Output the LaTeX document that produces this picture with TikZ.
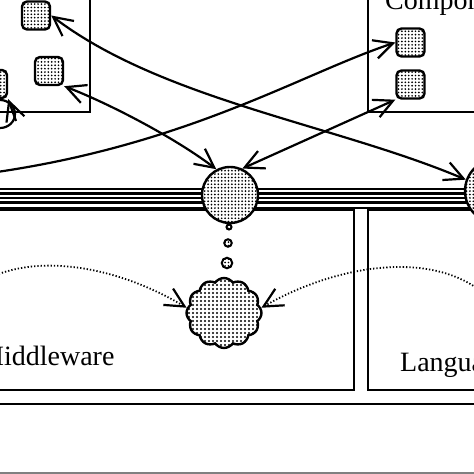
\documentclass[tikz,border=0pt]{standalone}
\usepackage{fontspec}
\setmainfont{Liberation Serif}
\usetikzlibrary{arrows.meta,patterns,shapes.symbols,shapes.geometric}
\pgfdeclarepatternformonly{bigdots}{\pgfqpoint{-1pt}{-1pt}}{\pgfqpoint{2.4pt}{2.4pt}}{\pgfqpoint{3.4pt}{3.4pt}}{\pgfpathcircle{\pgfqpoint{0.7pt}{0.7pt}}{0.95pt}\pgfusepath{fill}}
\pgfdeclarepatternformonly{cloudots}{\pgfqpoint{-1pt}{-1pt}}{\pgfqpoint{3pt}{3pt}}{\pgfqpoint{4pt}{4pt}}{\pgfpathcircle{\pgfqpoint{1pt}{1pt}}{1.15pt}\pgfusepath{fill}}
\begin{document}
\begin{tikzpicture}[x=1pt,y=-1pt,
  box/.style={line width=2.3pt},
  busline/.style={line width=2.7pt},
  sq/.style={draw, line width=2.4pt, rounded corners=5pt, minimum size=28pt, inner sep=0pt, preaction={fill=white}, pattern=bigdots},
  ball/.style={circle, draw, line width=2.4pt, inner sep=0pt, preaction={fill=white}, pattern=bigdots},
  bubble/.style={circle, draw, line width=2pt, inner sep=0pt, preaction={fill=white}, pattern=bigdots},
  arrtwo/.style={line width=2.2pt, {Straight Barb[length=19pt,width=19pt]}-{Straight Barb[length=19pt,width=19pt]}},
  arrone/.style={line width=2.2pt, -{Straight Barb[length=19pt,width=19pt]}},
  dotline/.style={line width=1.8pt, dash pattern=on 1.3pt off 2pt, -{Straight Barb[length=19pt,width=19pt,line width=2.2pt]}},
  lbl/.style={anchor=base west, inner sep=0pt, font=\fontsize{28}{30}\selectfont}
]
\useasboundingbox (0,0) rectangle (474,474);
\clip (0,0) rectangle (474,474);

% boxes
\draw[box] (-10,112) -- (90,112) -- (90,-10);
\draw[box] (368,-10) -- (368,112) -- (484,112);
\draw[box] (-10,209.5) -- (354,209.5) -- (354,390) -- (-10,390);
\draw[box] (484,209.5) -- (368,209.5) -- (368,390) -- (484,390);
\draw[box] (-10,404) -- (484,404);
\draw[gray, line width=2.5pt] (-5,473.5) -- (480,473.5);

% bus
\draw[busline] (-5,189) -- (480,189);
\draw[busline] (-5,193.5) -- (480,193.5);
\draw[busline] (-5,198) -- (480,198);
\draw[busline] (-5,202.5) -- (480,202.5);
\draw[line width=1.8pt] (-5,208) -- (480,208);

% labels
\node[lbl] (tcomp) at (385,9) {Component};
\node[lbl] (tmid) at (-21,365) {Middleware};
\node[lbl] (tlang) at (400,371) {Language};

% squares
\node[sq] (s1) at (36,15.5) {};
\node[sq] (s2) at (49,71) {};
\node[sq] (s3) at (-7,84) {};
\node[sq] (c1) at (410.5,42.5) {};
\node[sq] (c2) at (410.5,84.5) {};

% port ellipse
\node[ellipse, draw, line width=2.2pt, minimum width=30pt, minimum height=28pt, inner sep=0pt] (ell) at (0,114) {};

% balls
\node[ball, minimum size=56pt] (cc) at (230,195) {};
\node[ball, minimum size=64pt] (rc) at (497,191) {};

% bubbles and cloud
\node[bubble, minimum size=5pt] (b1) at (229,227) {};
\node[bubble, minimum size=7.5pt] (b2) at (228,243) {};
\node[bubble, minimum size=10.5pt] (b3) at (227,263) {};
\node[cloud, cloud puffs=12, cloud puff arc=110, aspect=1.07, draw, line width=2.4pt, minimum width=75pt, minimum height=70pt, inner sep=0pt, preaction={fill=white}, pattern=cloudots] (cl) at (224,313) {};

% connectors
\draw[arrtwo] (s1.east) .. controls (162,100) and (337,125) .. (rc.160);
\draw[arrtwo] (s2.south east) .. controls (109,103.5) and (174.5,137.5) .. (cc.118);
\coordinate (a4s) at (-10,173);
\draw[arrone] (a4s) .. controls (188,145.2) and (300.9,73.9) .. (c1.west);
\draw[arrtwo] (c2.south west) -- (cc.65);
\coordinate (a3s) at (16,121);
\draw[arrone] (a3s) -- (s3.south east);

\coordinate (dl) at (-30,290);
\draw[dotline] (dl) .. controls (20,250) and (110,262) .. (cl.172);
\coordinate (dr) at (500,310);
\draw[dotline] (dr) .. controls (450,245) and (341,262) .. (cl.8);
\end{tikzpicture}
\end{document}
